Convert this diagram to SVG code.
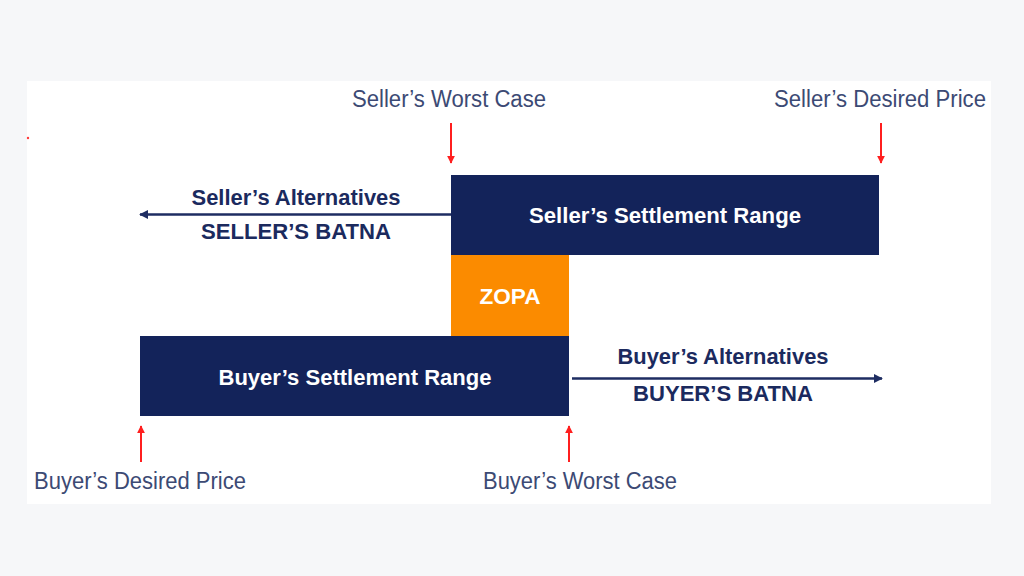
<svg xmlns="http://www.w3.org/2000/svg" width="1024" height="576" viewBox="0 0 1024 576">
<style>
.lbl{font-family:"Liberation Sans",Arial,sans-serif;font-size:23px;fill:#3c4a74;text-anchor:middle}
.alt{font-family:"Liberation Sans",Arial,sans-serif;font-size:22px;font-weight:bold;fill:#1b2a5e;text-anchor:middle}
.box{font-family:"Liberation Sans",Arial,sans-serif;font-size:22px;font-weight:bold;fill:#ffffff;text-anchor:middle}
.navy{fill:#13235a}
.red{stroke:#ff1f1f;stroke-width:2;fill:none}
.blue{stroke:#1e2d62;stroke-width:2.5;fill:none}
</style>
<defs>
<marker id="rh" viewBox="0 0 10 10" refX="9" refY="5" markerWidth="4" markerHeight="4" orient="auto" markerUnits="strokeWidth"><path d="M0,0L10,5L0,10z" fill="#ff1f1f"/></marker>
<marker id="bh" viewBox="0 0 10 10" refX="9" refY="5" markerWidth="3.6" markerHeight="3.6" orient="auto" markerUnits="strokeWidth"><path d="M0,0L10,5L0,10z" fill="#1e2d62"/></marker>
</defs>
<rect x="0" y="0" width="1024" height="576" fill="#f6f7f9"/>
<rect x="27" y="81" width="964" height="423" fill="#ffffff"/>
<circle cx="28" cy="138" r="1.2" fill="#ff3b3b"/>

<g id="seller-range">
<rect class="navy" x="451" y="175" width="428" height="80"/>
<text class="box" x="665" y="223" textLength="272" lengthAdjust="spacingAndGlyphs">Seller’s Settlement Range</text>
</g>
<g id="zopa">
<rect x="451" y="255" width="118" height="81" fill="#fb8b00"/>
<text class="box" x="510" y="304" textLength="61" lengthAdjust="spacingAndGlyphs">ZOPA</text>
</g>
<g id="buyer-range">
<rect class="navy" x="140" y="336" width="429" height="80"/>
<text class="box" x="355" y="385" textLength="273" lengthAdjust="spacingAndGlyphs">Buyer’s Settlement Range</text>
</g>

<g id="seller-worst-case">
<text class="lbl" x="449" y="107" textLength="194" lengthAdjust="spacingAndGlyphs">Seller’s Worst Case</text>
</g>
<g id="seller-desired-price">
<text class="lbl" x="880" y="107" textLength="212" lengthAdjust="spacingAndGlyphs">Seller’s Desired Price</text>
</g>
<g id="buyer-desired-price">
<text class="lbl" x="140" y="489" textLength="212" lengthAdjust="spacingAndGlyphs">Buyer’s Desired Price</text>
</g>
<g id="buyer-worst-case">
<text class="lbl" x="580" y="489" textLength="194" lengthAdjust="spacingAndGlyphs">Buyer’s Worst Case</text>
</g>
<g id="seller-batna">
<text class="alt" x="296" y="205" textLength="209" lengthAdjust="spacingAndGlyphs">Seller’s Alternatives</text>
<text class="alt" x="296" y="239" textLength="190" lengthAdjust="spacingAndGlyphs">SELLER’S BATNA</text>
</g>
<g id="buyer-batna">
<text class="alt" x="723" y="364" textLength="211" lengthAdjust="spacingAndGlyphs">Buyer’s Alternatives</text>
<text class="alt" x="723" y="401" textLength="180" lengthAdjust="spacingAndGlyphs">BUYER’S BATNA</text>
</g>

<g id="connectors">
<line class="red" x1="451" y1="123" x2="451" y2="163" marker-end="url(#rh)"/>
<line class="red" x1="881" y1="123" x2="881" y2="163" marker-end="url(#rh)"/>
<line class="red" x1="141" y1="462" x2="141" y2="426" marker-end="url(#rh)"/>
<line class="red" x1="569" y1="462" x2="569" y2="426" marker-end="url(#rh)"/>
<line class="blue" x1="451" y1="214.5" x2="140" y2="214.5" marker-end="url(#bh)"/>
<line class="blue" x1="572" y1="378.5" x2="882" y2="378.5" marker-end="url(#bh)"/>
</g>
</svg>
